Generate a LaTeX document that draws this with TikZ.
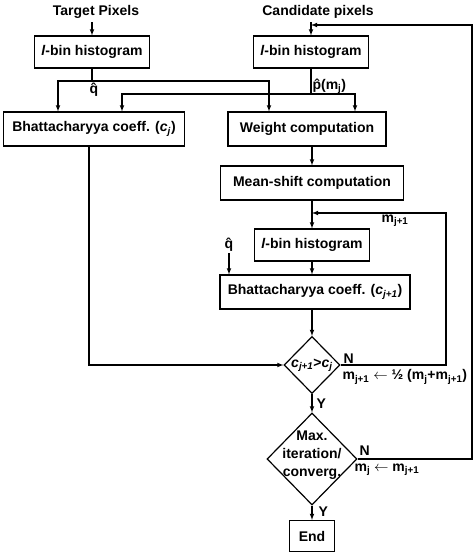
\documentclass[tikz,border=0pt]{standalone}
\usepackage{fontspec}
\setmainfont{Liberation Sans}
\usetikzlibrary{arrows,shapes.geometric}

\begin{document}
\begin{tikzpicture}[x=1pt,y=-1pt,>=latex,line width=1.1pt,
  every node/.style={font=\bfseries\fontsize{14}{18}\selectfont},
  box/.style={draw,line width=1.2pt,inner sep=0pt,minimum height=34pt},
  dia/.style={draw,diamond,line width=1.2pt,inner sep=0pt},
  lbl/.style={inner sep=1pt}]
\useasboundingbox (0,0) rectangle (474,554);
% inputs and first histograms
\node (tpix) at (96,12) {Target Pixels};
\node (cpix) at (318,12) {Candidate pixels};
\node[box,minimum width=115pt,minimum height=32pt] (hist1) at (92,52) {\textit{l}-bin histogram};
\node[box,minimum width=115pt,minimum height=32pt] (hist2) at (311,52) {\textit{l}-bin histogram};
\node[box,minimum width=181pt] (bc1) at (94,129) {Bhattacharyya coeff. (\textit{c}\textsubscript{\textit{j}})};
\node[box,minimum width=158pt] (wc) at (307,129) {Weight computation};
\node[box,minimum width=183pt] (ms) at (312,183) {Mean-shift computation};
% loop
\node[box,minimum width=115pt,minimum height=32pt] (hist3) at (312,245) {\textit{l}-bin histogram};
\node[box,minimum width=190pt] (bc2) at (315,292) {Bhattacharyya coeff. (\textit{c}\textsubscript{\textit{j+1}})};
\node[dia,minimum width=56pt,minimum height=57pt] (d1) at (312,365) {};
\node (d1t) at (d1) {\textit{c}\textsubscript{\textit{j+1}}>\textit{c}\textsubscript{\textit{j}}};
\node[dia,minimum width=90pt,minimum height=92pt] (d2) at (312,459) {};
\node[align=center] (d2t) at ([yshift=4pt]d2) {Max.\\iteration/\\converg.};
\node[box,minimum width=45pt,minimum height=31pt] (endb) at (312,536) {End};
% labels
\node[lbl] (qlab1) at (94,90) {\^{q}};
\node[lbl,anchor=west] (plab) at (311,86) {\^{p}(m\textsubscript{j})};
\node[lbl] (mlab) at (395,221) {m\textsubscript{j+1}};
\node[lbl] (qlab2) at (229,245) {\^{q}};
\node[lbl,anchor=west] (n1) at (342,359) {N};
\node[lbl,anchor=west] (upd1) at (341,377) {m\textsubscript{j+1} $\leftarrow$ \textonehalf{} (m\textsubscript{j}+m\textsubscript{j+1})};
\node[lbl,anchor=west] (y1) at (315,404) {Y};
\node[lbl,anchor=west] (n2) at (358,451) {N};
\node[lbl,anchor=west] (upd2) at (353,470) {m\textsubscript{j} $\leftarrow$ m\textsubscript{j+1}};
\node[lbl,anchor=west] (y2) at (317,512) {Y};
\coordinate (qsplit) at (hist1.south |- 0,81);
\coordinate (psplit) at (hist2.south |- 0,94);
\coordinate (fb1) at (446,213);
\coordinate (fb2) at (472,25);
% connectors
\draw[->] (hist1.north |- tpix.south) -- (hist1.north);
\draw[->] (hist2.north |- cpix.south) -- (hist2.north);
\draw (hist1.south) -- (qsplit);
\draw[->] (qsplit) -| ([xshift=-36pt]bc1.north);
\draw[->] (qsplit) -| ([xshift=-38pt]wc.north);
\draw (hist2.south) -- (psplit);
\draw[->] (psplit) -| ([xshift=28pt]bc1.north);
\draw[->] (psplit) -| ([xshift=48pt]wc.north);
\draw[->] (ms.north |- wc.south) -- (ms.north);
\draw[->] (ms.south) -- (hist3.north);
\draw[->] (hist3.south) -- (hist3.south |- bc2.north);
\draw[->] (qlab2.south) -- (qlab2.south |- bc2.north);
\draw[->] (d1.north |- bc2.south) -- (d1.north);
\draw[->] ([xshift=-5pt]bc1.south) |- (d1.west);
\draw[->] (d1.east) -| (fb1) -- (hist3.north |- fb1);
\draw[->] (d1.south) -- (d2.north);
\draw[->] (d2.south) -- (endb.north);
\draw[->] (d2.east) -| (fb2) -- (hist2.north |- fb2);
\end{tikzpicture}
\end{document}
